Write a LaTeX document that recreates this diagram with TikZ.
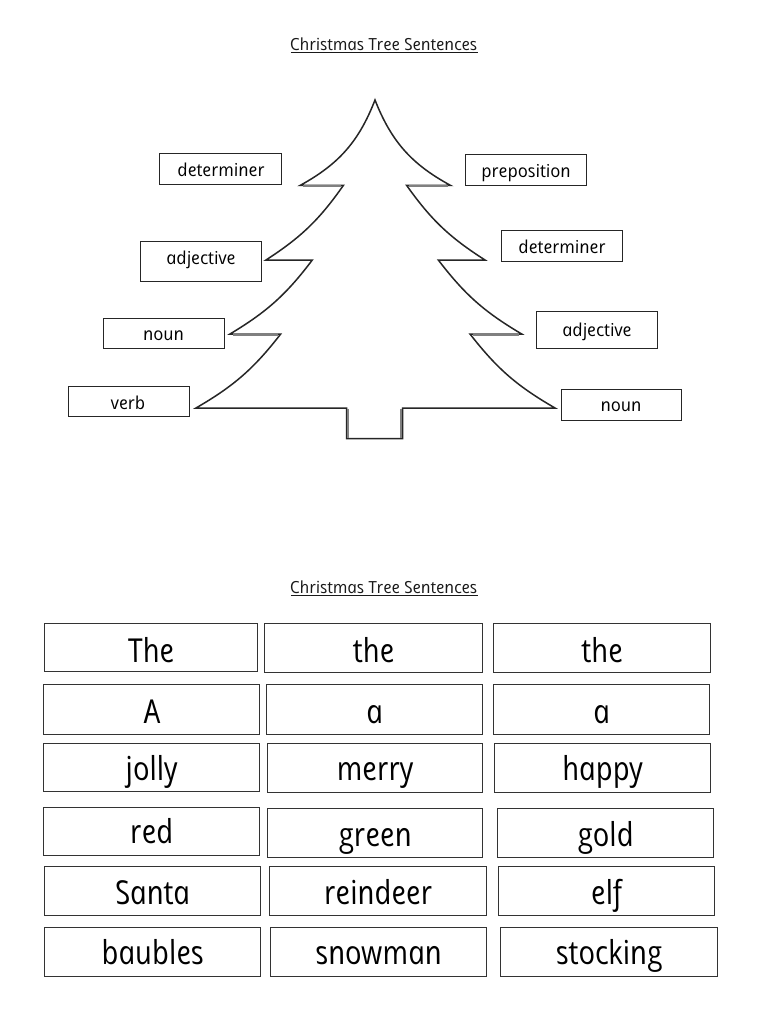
\documentclass[tikz,border=0pt]{standalone}
\usepackage{fontspec}
\setmainfont{Open Sans}
\newfontfamily\sass[UprightFont=*,ItalicFont=*,BoldFont=*]{Open Sans Italic}[FakeSlant=-0.2]
\newfontfamily\sassn[UprightFont=*,ItalicFont=*,BoldFont=*]{Open Sans Italic}[FakeSlant=-0.2,FakeStretch=0.89]
\tikzset{
  x=1pt,y=-1pt,
  lab/.style={font=\sass\fontsize{17.8}{20}\selectfont,text=black,inner sep=0pt,anchor=base},
  word/.style={font=\sassn\fontsize{33}{38}\selectfont,text=black,inner sep=0pt,anchor=base},
  ttl/.style={font=\sass\fontsize{16.7}{19}\selectfont,text=black!90,inner sep=0pt},
  bx/.style={draw=black!85,line width=0.9pt,fill=white},
  wbx/.style={draw=black!80,line width=0.9pt,fill=white},
  tree/.style={draw=black!85,line width=1.5pt,line join=miter,miter limit=10,fill=white},
  shade/.style={draw=black!50,line width=2.2pt},
}
\newcommand{\labbox}[7]{\draw[bx] (#2,#3) rectangle (#4,#5); \node[lab,xshift=1pt] (#1) at (#6) {#7};}
\newcommand{\wordbox}[7]{\draw[wbx] (#2-0.5,#3-0.5) rectangle (#4-0.5,#5-0.5); \node[word] (#1) at ({(#2+#4)/2+1.5},#7) {#6};}
\begin{document}
\begin{tikzpicture}
\useasboundingbox (0,0) rectangle (768,1024);
\fill[white] (0,0) rectangle (768,1024);
\node[ttl] (t1) at (384.5,45) {\underline{Christmas Tree Sentences}};
\node[ttl] (t2) at (384.5,588) {\underline{Christmas Tree Sentences}};
% tree
\coordinate (top) at (375,100);
\path[tree] (top) to[bend right=20] (450.7,185.5) -- (406.7,185.5)
 to[bend right=11] (485,260) -- (438.3,260)
 to[bend right=11] (521.7,334) -- (470,334)
 to[bend right=11] (555,408) -- (402.7,408) -- (402.7,438.7) -- (346.7,438.7) -- (346.7,408) -- (196,408)
 to[bend right=11] (280.7,334) -- (230,334)
 to[bend right=11] (312.3,260) -- (266,260)
 to[bend right=11] (343.3,185.5) -- (300,185.5)
 to[bend right=20] (top) -- cycle;
% grey double strokes of the reference's scan
\draw[shade] (348.2,408.5) -- (348.2,438);
\draw[shade] (401,408.5) -- (401,438);
\draw[shade] (303,186) -- (341,186);
\draw[shade] (409,186) -- (448,186);
\draw[shade] (233,334.4) -- (278,334.4);
\draw[shade] (473,334.4) -- (519,334.4);
% labels
\labbox{a1}{159}{153}{281}{184}{221,177}{determiner}
\labbox{a2}{465}{154}{586}{185}{526,178}{preposition}
\labbox{a3}{140}{241}{261}{281}{201,264}{adjective}
\labbox{a4}{501}{230}{622}{261}{562,253}{determiner}
\labbox{a5}{103}{318}{224}{348}{163.5,340}{noun}
\labbox{a6}{536}{311}{657}{348}{597,336}{adjective}
\labbox{a7}{68}{386}{189}{416}{128,409}{verb}
\labbox{a8}{561}{389}{681}{420}{621,411}{noun}
% words
\wordbox{w11}{45}{624}{258}{672}{The}{662}
\wordbox{w12}{265}{624}{483}{673}{the}{662}
\wordbox{w13}{494}{624}{711}{673}{the}{662}
\wordbox{w21}{44}{685}{260}{735}{A}{723}
\wordbox{w22}{267}{685}{483}{735}{a}{723}
\wordbox{w23}{494}{685}{710}{735}{a}{723}
\wordbox{w31}{44}{744}{260}{792}{jolly}{780}
\wordbox{w32}{268}{744}{483}{793}{merry}{780}
\wordbox{w33}{495}{744}{711}{793}{happy}{780}
\wordbox{w41}{44}{808}{260}{856}{red}{843}
\wordbox{w42}{268}{809}{483}{858}{green}{846}
\wordbox{w43}{498}{809}{714}{858}{gold}{846}
\wordbox{w51}{45}{867}{261}{916}{Santa}{904}
\wordbox{w52}{270}{867}{487}{916}{reindeer}{904}
\wordbox{w53}{499}{867}{715}{916}{elf}{904}
\wordbox{w61}{45}{928}{261}{977}{baubles}{964}
\wordbox{w62}{271}{928}{487}{977}{snowman}{964}
\wordbox{w63}{501}{928}{718}{977}{stocking}{964}
\end{tikzpicture}
\end{document}
